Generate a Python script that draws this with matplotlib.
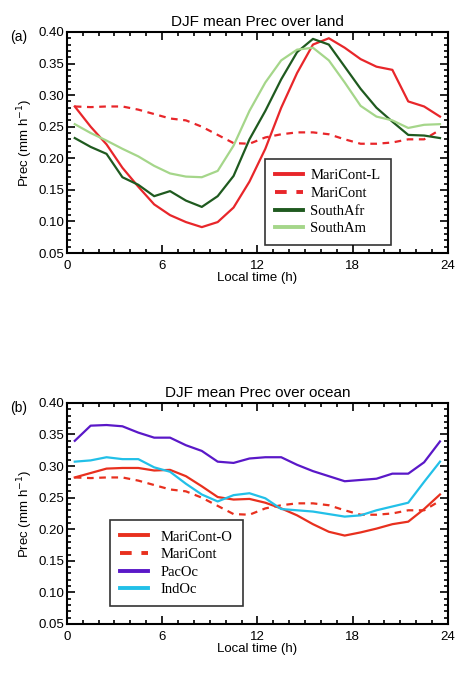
import matplotlib
matplotlib.use("Agg")
import matplotlib.pyplot as plt
from matplotlib.ticker import MultipleLocator

hours = [h + 0.5 for h in range(24)]

maricont_l = [0.282, 0.250, 0.222, 0.185, 0.155, 0.127, 0.110, 0.099, 0.091, 0.099, 0.122, 0.163,
              0.215, 0.280, 0.335, 0.380, 0.390, 0.375, 0.357, 0.345, 0.340, 0.290, 0.282, 0.266]
maricont = [0.282, 0.281, 0.282, 0.282, 0.277, 0.270, 0.263, 0.260, 0.250, 0.237, 0.224, 0.223,
            0.233, 0.238, 0.241, 0.241, 0.238, 0.230, 0.223, 0.223, 0.225, 0.230, 0.230, 0.245]
southafr = [0.232, 0.218, 0.207, 0.170, 0.158, 0.140, 0.148, 0.133, 0.123, 0.140, 0.172, 0.230,
            0.275, 0.325, 0.368, 0.389, 0.380, 0.345, 0.310, 0.280, 0.258, 0.237, 0.236, 0.232]
southam = [0.254, 0.240, 0.228, 0.215, 0.203, 0.188, 0.176, 0.171, 0.170, 0.180, 0.220, 0.275,
           0.320, 0.355, 0.372, 0.375, 0.355, 0.320, 0.283, 0.266, 0.260, 0.248, 0.253, 0.254]

pacoc = [0.340, 0.364, 0.365, 0.363, 0.353, 0.345, 0.345, 0.333, 0.324, 0.307, 0.305, 0.312,
         0.314, 0.314, 0.302, 0.292, 0.284, 0.276, 0.278, 0.280, 0.288, 0.288, 0.306, 0.339]
indoc = [0.307, 0.309, 0.314, 0.311, 0.311, 0.298, 0.291, 0.272, 0.255, 0.244, 0.254, 0.257,
         0.249, 0.232, 0.230, 0.228, 0.224, 0.220, 0.222, 0.230, 0.236, 0.242, 0.275, 0.307]
maricont_o = [0.282, 0.289, 0.296, 0.297, 0.297, 0.293, 0.294, 0.284, 0.268, 0.251, 0.247, 0.248,
              0.242, 0.233, 0.222, 0.208, 0.196, 0.190, 0.195, 0.201, 0.208, 0.212, 0.232, 0.255]

xticks = [0, 6, 12, 18, 24]
yticks = [0.05, 0.10, 0.15, 0.20, 0.25, 0.30, 0.35, 0.40]

RED = "#e8262a"
RED_O = "#e8301e"
DKGREEN = "#1f5a1f"
LTGREEN = "#a5d68a"
PURPLE = "#5a18c8"
CYAN = "#22c0e8"

plt.rcParams['font.family'] = ['Liberation Sans', 'DejaVu Sans']

fig = plt.figure(figsize=(4.74, 6.74), dpi=100)
axa = fig.add_axes([0.141, 0.6246, 0.804, 0.328])
axb = fig.add_axes([0.141, 0.0742, 0.804, 0.328])


def style(ax, title, tag):
    ax.set_xlim(0, 24)
    ax.set_ylim(0.05, 0.40)
    ax.set_xticks(xticks)
    ax.set_yticks(yticks)
    ax.set_yticklabels([f"{v:.2f}" for v in yticks])
    ax.xaxis.set_minor_locator(MultipleLocator(1))
    ax.yaxis.set_minor_locator(MultipleLocator(0.01))
    ax.tick_params(which='both', direction='in', top=True, right=True, labelsize=9.5, width=1.2)
    ax.tick_params(axis='y', which='major', pad=2)
    ax.tick_params(axis='x', which='major', pad=5)
    ax.tick_params(which='major', length=6)
    ax.tick_params(which='minor', length=3)
    for s in ax.spines.values():
        s.set_linewidth(1.5)
    ax.set_title(title, fontsize=11, pad=4)
    ax.set_xlabel("Local time (h)", fontsize=9.5, labelpad=0)
    ax.set_ylabel("Prec (mm h$^{-1}$)", fontsize=9.5, labelpad=2)
    ax.text(-0.127, 0.977, tag, transform=ax.transAxes, fontsize=10, ha='center', va='center')


def add_legend(ax, anchor, textpad):
    leg = ax.legend(loc='upper left', bbox_to_anchor=anchor, frameon=True, fancybox=False,
                    edgecolor='black', prop={'family': 'Liberation Serif', 'size': 10.5},
                    handlelength=1.9, borderpad=0.7, labelspacing=0.3, handletextpad=textpad,
                    borderaxespad=0)
    leg.get_frame().set_linewidth(1.2)
    for l in leg.get_lines():
        l.set_linewidth(2.8)
    return leg


axa.plot(hours, maricont_l, color=RED, lw=1.6, label="MariCont-L")
axa.plot(hours, maricont, color=RED, lw=1.6, ls=(0, (3, 2.5)), label="MariCont")
axa.plot(hours, southafr, color=DKGREEN, lw=1.6, label="SouthAfr")
axa.plot(hours, southam, color=LTGREEN, lw=1.6, label="SouthAm")
style(axa, "DJF mean Prec over land", "(a)")
add_legend(axa, (0.52, 0.425), 0.5)

axb.plot(hours, maricont_o, color=RED_O, lw=1.6, label="MariCont-O")
axb.plot(hours, maricont, color=RED_O, lw=1.6, ls=(0, (3, 2.5)), label="MariCont")
axb.plot(hours, pacoc, color=PURPLE, lw=1.6, label="PacOc")
axb.plot(hours, indoc, color=CYAN, lw=1.6, label="IndOc")
style(axb, "DJF mean Prec over ocean", "(b)")
add_legend(axb, (0.113, 0.47), 0.9)

fig.savefig("out.png", dpi=100)
